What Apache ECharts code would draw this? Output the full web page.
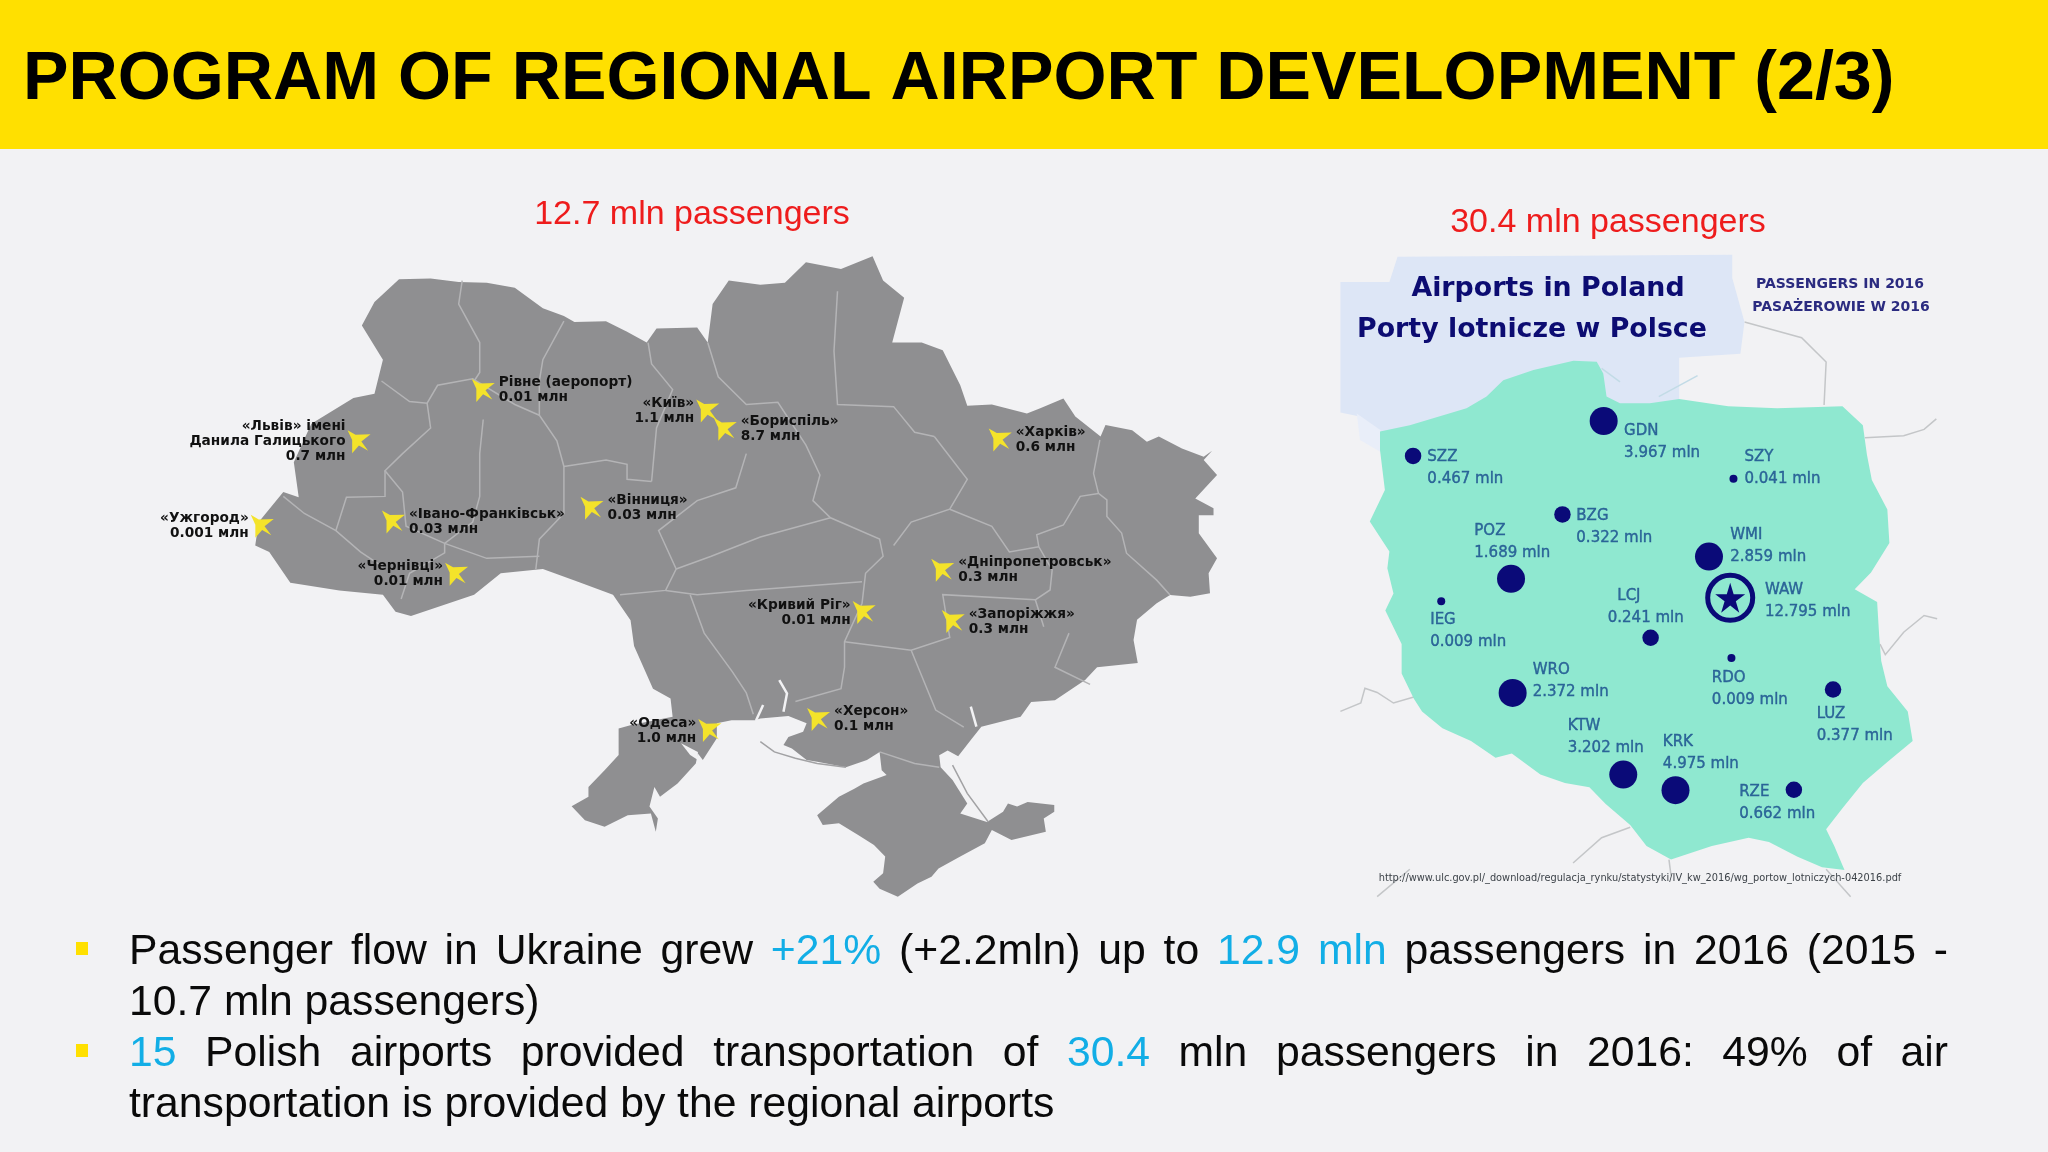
<!DOCTYPE html>
<html lang="en">
<head>
<meta charset="UTF-8">
<title>Program of regional airport development</title>
<script src="https://cdn.jsdelivr.net/npm/echarts@6/dist/echarts.min.js"></script>
<style>
    html, body { margin: 0; padding: 0; background: #f2f2f4; }
    #chart { width: 2048px; height: 1152px; }
</style>
</head>
<body>
<div id="chart"></div>
<script>
// map data is in map units, 0..1568 on both axes of each map's own grid

const ukraineOutline = [
    [355,92],[400,90],[440,98],[480,100],[520,112],[560,160],[590,178],[605,192],[650,190],[680,215],[708,240],[722,207],[780,205],[795,240],[802,150],[825,95],[870,105],[905,100],[935,52],[985,68],[1030,38],[1045,95],[1075,135],[1058,240],[1100,240],[1130,258],[1155,340],[1165,388],[1200,385],[1250,406],[1269,394],[1302,371],[1319,413],[1355,460],[1362,433],[1400,445],[1421,472],[1438,460],[1471,488],[1502,507],[1514,493],[1502,515],[1521,550],[1490,605],[1516,628],[1516,644],[1495,644],[1495,686],[1521,745],[1509,780],[1511,827],[1483,835],[1454,831],[1435,850],[1407,889],[1402,936],[1408,990],[1350,1000],[1333,1030],
    [1290,1077],[1256,1081],[1241,1116],[1185,1139],[1170,1170],[1152,1208],[1137,1195],[1125,1206],[1127,1234],[1144,1264],[1165,1319],[1155,1342],[1193,1362],[1216,1338],[1223,1319],[1236,1326],[1251,1315],[1289,1322],[1289,1338],[1274,1354],[1277,1385],[1228,1404],[1200,1381],[1190,1412],[1155,1443],[1124,1471],[1114,1490],[1094,1506],[1066,1537],[1040,1518],[1031,1502],[1045,1482],[1048,1443],[1032,1416],[1010,1393],[982,1365],[959,1369],[951,1346],[982,1303],[1004,1284],[1017,1272],[1050,1252],[1043,1241],[1040,1198],[1022,1217],[992,1234],[951,1221],[936,1217],[915,1190],[903,1182],[910,1163],[931,1151],[936,1131],[910,1114],[870,1120],[862,1124],[829,1124],[808,1131],[808,1166],[788,1217],[781,1202],[778,1225],[752,1272],[727,1303],[719,1280],[712,1326],[724,1354],[721,1385],[714,1342],[681,1346],[648,1373],[620,1358],[601,1325],[625,1303],[625,1280],[648,1241],[668,1205],[668,1143],[686,1135],[745,1116],[742,1073],[717,1050],
    [690,950],[685,890],[660,830],[610,800],[560,770],[500,780],[462,830],[372,880],[350,870],[332,830],[270,820],[200,802],[170,730],[150,715],[155,660],[190,590],[212,602],[205,520],[230,430],[290,370],[320,360],[332,280],[302,200],[320,145]
];
const dniesterEstuary = [[757,1178],[781,1198],[781,1217],[770,1205]];
const ukraineBorders = [
    [[445,95],[440,150],[470,240],[470,310],[462,330]],
    [[590,190],[560,280],[555,330],[555,410],[580,470],[590,530],[590,640],[555,700],[550,770]],
    [[330,330],[370,378],[395,382],[410,340],[460,325],[520,385],[555,410]],
    [[395,382],[400,440],[360,500],[335,540],[360,590],[365,670],[420,710],[480,745],[555,740]],
    [[475,420],[470,500],[470,600],[460,660],[420,710]],
    [[265,680],[280,602],[335,600],[335,540]],
    [[190,600],[220,640],[265,680],[300,730],[332,765]],
    [[420,710],[420,732],[370,780],[358,840]],
    [[590,530],[650,515],[680,525],[680,560],[715,565]],
    [[710,240],[715,290],[745,350],[722,440],[715,565]],
    [[795,240],[810,320],[850,385],[895,380],[935,480],[955,550],[945,610],[970,650],[1040,700],[1045,740],[1020,780],[1015,850],[990,940],[990,1000],[985,1050],[920,1080]],
    [[980,120],[975,260],[980,385],[1060,390],[1090,450],[1118,460]],
    [[1118,460],[1165,560],[1140,630],[1085,660],[1060,715]],
    [[1354,468],[1345,546],[1352,593],[1364,608],[1364,647],[1385,686],[1392,733],[1435,796],[1454,831]],
    [[1352,593],[1326,600],[1302,667],[1264,690],[1267,718],[1286,772],[1283,819],[1262,842],[1274,905]],
    [[1140,630],[1200,670],[1225,730],[1267,718]],
    [[850,500],[835,580],[780,610],[725,680],[750,770],[735,820],[670,830]],
    [[750,770],[800,740],[870,695],[970,650]],
    [[735,820],[780,830],[850,820],[1015,800]],
    [[770,830],[790,920],[830,1010],[850,1060],[860,1110]],
    [[990,940],[1085,960],[1140,930],[1130,830],[1262,842]],
    [[1085,960],[1120,1100],[1160,1140]],
    [[1310,920],[1290,1000],[1340,1040]],
    [[1040,1198],[1090,1225],[1125,1234]]
];
const ukraineWhiteLines = [
    [[897,1030],[908,1061],[903,1104]],
    [[864,1124],[874,1088]],
    [[1170,1092],[1178,1139]]
];
const ukraineSpits = [
    [[1144,1229],[1165,1295],[1195,1362]],
    [[870,1174],[890,1198],[920,1213],[951,1225],[992,1234]]
];
const ukraineNames = ['Рівне (аеропорт)', '«Львів» імені\nДанила Галицького', '«Ужгород»', '«Івано-Франківськ»', '«Чернівці»', '«Вінниця»', '«Київ»', '«Бориспіль»', '«Харків»', '«Дніпропетровськ»', '«Кривий Ріг»', '«Запоріжжя»', '«Херсон»', '«Одеса»'];
const ukrainePassengers = ['0.01 млн', '0.7 млн', '0.001 млн', '0.03 млн', '0.01 млн', '0.03 млн', '1.1 млн', '8.7 млн', '0.6 млн', '0.3 млн', '0.01 млн', '0.3 млн', '0.1 млн', '1.0 млн'];
const ukraineSpots = [[475,352],[298,472],[160,670],[347,660],[437,782],[630,628],[795,400],[820,443],[1212,468],[1130,773],[1018,872],[1145,893],[953,1122],[798,1148]];
const ukraineLabelSide = ['right','left','left','right','left','right','left','right','right','right','left','right','right','left'];

const polandOutline = [
    [147,455],[220,440],[359,400],[408,372],[449,333],[523,309],[621,287],[678,289],[694,317],[702,372],[735,388],[808,388],[880,378],[1000,395],[1120,400],[1280,395],[1330,440],[1340,510],[1352,570],[1390,640],[1395,720],[1350,790],[1310,830],[1365,860],[1370,940],[1375,1000],[1390,1060],[1440,1120],[1452,1190],[1390,1240],[1330,1290],[1280,1350],[1240,1400],[1260,1440],[1285,1497],[1230,1490],[1170,1465],[1100,1430],[1050,1420],[960,1440],[860,1472],[800,1440],[760,1390],[700,1340],[660,1300],[600,1290],[540,1270],[470,1220],[430,1230],[370,1190],[300,1160],[250,1120],[230,1090],[200,1030],[200,960],[160,880],[180,840],[165,780],[170,740],[122,669],[159,594],[147,499]
];
const balticSea = [
    [50,100],[170,100],[190,40],[1010,35],[1010,90],[1040,195],[1030,270],[880,280],[880,395],[150,480],[100,420],[50,410]
];
const szczecinLagoon = [[90,412],[147,451],[188,499],[176,519],[98,475]];
const neighbourBorders = [
    [[1040,195],[1180,232],[1240,290],[1235,392]],
    [[1335,470],[1430,465],[1480,450],[1510,425]],
    [[1372,960],[1385,985],[1430,932],[1480,892],[1512,900]],
    [[50,1120],[100,1100],[110,1065],[140,1075],[180,1100],[232,1085]],
    [[620,1480],[690,1420],[760,1395]],
    [[1240,1495],[1300,1560]],
    [[140,1560],[220,1495]],
    [[855,1472],[860,1510]]
];
const polandSpits = [[[690,305],[735,337]], [[830,372],[925,322]]];
const polandCodes = ['GDN','SZZ','SZY','BZG','POZ','WMI','IEG','LCJ','RDO','WRO','LUZ','KTW','KRK','RZE'];
const polandPassengers = [3.967,0.467,0.041,0.322,1.689,2.859,0.009,0.241,0.009,2.372,0.377,3.202,4.975,0.662];
const polandSpots = [[695,430],[228,513],[1013,567],[594,652],[468,805],[953,752],[297,858],[810,945],[1008,993],[472,1076],[1257,1068],[743,1270],[871,1307],[1161,1306]];
const polandLabelSpots = [[745,480],[263,543],[1040,543],[628,682],[378,718],[1005,727],[270,928],[705,872],[960,1067],[521,1048],[1217,1153],[607,1181],[840,1218],[1027,1338]];
const wawSpot = [1005,850];
const wawLabelSpot = [1090,859];
const wawPassengers = 12.795;

const slideTitle = 'PROGRAM OF REGIONAL AIRPORT DEVELOPMENT (2/3)';
const ukraineHeading = '12.7 mln passengers';
const polandHeading = '30.4 mln passengers';
const bodyLines = [
    { justify: true, runs: [['Passenger flow in Ukraine grew'], ['+21%', 1], ['(+2.2mln) up to'], ['12.9 mln', 1], ['passengers in 2016 (2015 -']] },
    { justify: false, runs: [['10.7 mln passengers)']] },
    { justify: true, runs: [['15', 1], ['Polish airports provided transportation of'], ['30.4', 1], ['mln passengers in 2016: 49% of air']] },
    { justify: false, runs: [['transportation is provided by the regional airports']] }
];

const planeIcon = 'path://M5,5 L38,24 L100,22 L62,52 L90,90 L52,68 L24,100 L24,46 Z';
const starIcon = 'path://M50,0 L61,35 L98,35 L68,57 L79,92 L50,70 L21,92 L32,57 L2,35 L39,35 Z';

const BODY_FONT = '42.7px "Liberation Sans"';
const measure = document.createElement('canvas').getContext('2d');

function bodyGraphics() {
    const left = 129, right = 1948, tops = [952, 1003, 1054, 1105];
    const out = [];
    measure.font = BODY_FONT;
    const space = measure.measureText(' ').width;
    bodyLines.forEach(function (line, i) {
        const words = [];
        line.runs.forEach(function (run) {
            run[0].split(' ').forEach(function (w) { words.push({ text: w, hot: !!run[1] }); });
        });
        const total = words.reduce(function (s, w) { return s + measure.measureText(w.text).width; }, 0);
        const gap = line.justify ? (right - left - total) / (words.length - 1) : space;
        let x = left;
        words.forEach(function (w) {
            out.push({
                type: 'text', x: x, y: tops[i], z: 5,
                style: { text: w.text, font: BODY_FONT, fill: w.hot ? '#12aee6' : '#0a0a0a', verticalAlign: 'middle' }
            });
            x += measure.measureText(w.text).width + gap;
        });
    });
    [948, 1050].forEach(function (y) {
        out.push({ type: 'rect', z: 5, shape: { x: 76, y: y - 6, width: 12, height: 13 }, style: { fill: '#ffe000' } });
    });
    return out;
}

function shapes(list, gridIdx, build) {
    return {
        type: 'custom', coordinateSystem: 'cartesian2d', xAxisIndex: gridIdx, yAxisIndex: gridIdx,
        silent: true, clip: false,
        data: list.map(function (_, i) { return [i]; }),
        encode: { x: -1, y: -1 },
        renderItem: function (params, api) {
            const pts = list[params.dataIndex].map(function (p) { return api.coord(p); });
            return build(pts);
        }
    };
}
function fill(color) {
    return function (points) {
        return { type: 'polygon', shape: { points: points }, style: { fill: color } };
    };
}
function stroke(color, width) {
    return function (points) {
        return { type: 'polyline', shape: { points: points }, style: { stroke: color, fill: 'none', lineWidth: width } };
    };
}
function hiddenAxis(inverse) {
    return { type: 'value', show: false, min: 0, max: 1568, inverse: inverse, gridIndex: 0 };
}

const chart = echarts.init(document.getElementById('chart'));
chart.setOption({
    animation: false,
    backgroundColor: '#f2f2f4',
    grid: [
        { left: 150, top: 240, width: 1100, height: 670 },
        { left: 1320, top: 240, width: 640, height: 660 }
    ],
    xAxis: [hiddenAxis(false), Object.assign(hiddenAxis(false), { gridIndex: 1 })],
    yAxis: [hiddenAxis(true), Object.assign(hiddenAxis(true), { gridIndex: 1 })],
    graphic: [
        { type: 'rect', z: 4, shape: { x: 0, y: 0, width: 2048, height: 149 }, style: { fill: '#ffe000' } },
        { type: 'text', z: 5, x: 23, y: 80, style: { text: slideTitle, font: 'bold 68.2px "Liberation Sans"', fill: '#000', verticalAlign: 'middle' } },
        { type: 'text', z: 5, x: 692, y: 215, style: { text: ukraineHeading, font: '34px "Liberation Sans"', fill: '#ee1c1c', align: 'center', verticalAlign: 'middle' } },
        { type: 'text', z: 5, x: 1608, y: 223, style: { text: polandHeading, font: '34px "Liberation Sans"', fill: '#ee1c1c', align: 'center', verticalAlign: 'middle' } },
        { type: 'text', z: 5, x: 1548, y: 289, style: { text: 'Airports in Poland', font: 'bold 26.8px "DejaVu Sans"', fill: '#0c0c72', align: 'center', verticalAlign: 'middle' } },
        { type: 'text', z: 5, x: 1532, y: 330, style: { text: 'Porty lotnicze w Polsce', font: 'bold 26.8px "DejaVu Sans"', fill: '#0c0c72', align: 'center', verticalAlign: 'middle' } },
        { type: 'text', z: 5, x: 1840, y: 284, style: { text: 'PASSENGERS IN 2016', font: 'bold 14px "DejaVu Sans"', fill: '#2b2b80', align: 'center', verticalAlign: 'middle' } },
        { type: 'text', z: 5, x: 1841, y: 307, style: { text: 'PASAŻEROWIE W 2016', font: 'bold 14px "DejaVu Sans"', fill: '#2b2b80', align: 'center', verticalAlign: 'middle' } },
        { type: 'text', z: 5, x: 1640, y: 878, style: { text: 'http://www.ulc.gov.pl/_download/regulacja_rynku/statystyki/IV_kw_2016/wg_portow_lotniczych-042016.pdf', font: '9.8px "DejaVu Sans"', fill: '#3c4248', align: 'center', verticalAlign: 'middle' } }
    ].concat(bodyGraphics()),
    series: [
        shapes([ukraineOutline], 0, fill('#8f8f91')),
        shapes([dniesterEstuary], 0, fill('#f2f2f4')),
        shapes(ukraineBorders, 0, stroke('#b4b4b6', 1.5)),
        shapes(ukraineWhiteLines, 0, stroke('#f2f2f4', 2.5)),
        shapes(ukraineSpits, 0, stroke('#a2a2a4', 1.5)),
        {
            type: 'scatter', xAxisIndex: 0, yAxisIndex: 0, symbol: planeIcon, symbolSize: 23,
            itemStyle: { color: '#f4e32a', opacity: 1 },
            labelLayout: { hideOverlap: false },
            data: ukraineSpots.map(function (p, i) {
                const onLeft = ukraineLabelSide[i] === 'left';
                return {
                    value: p,
                    label: {
                        show: true, position: ukraineLabelSide[i], distance: onLeft ? 2 : 4,
                        offset: ukraineNames[i].indexOf('\n') > 0 ? [0, -7] : [0, 0],
                        formatter: ukraineNames[i] + '\n' + ukrainePassengers[i],
                        fontFamily: 'DejaVu Sans', fontWeight: 'bold', fontSize: 13.7,
                        lineHeight: 15, color: '#111',
                        align: onLeft ? 'right' : 'left'
                    }
                };
            })
        },
        shapes(neighbourBorders, 1, stroke('#c4c6c8', 1.5)),
        shapes([balticSea], 1, fill('#dde6f6')),
        shapes([szczecinLagoon], 1, fill('#e9eef9')),
        shapes([polandOutline], 1, fill('#8fe8d0')),
        shapes(polandSpits, 1, stroke('#c2dbe6', 1.5)),
        {
            type: 'scatter', xAxisIndex: 1, yAxisIndex: 1, symbol: 'circle',
            symbolSize: function (v, params) {
                const pax = polandPassengers[params.dataIndex];
                return pax >= 1 ? 28 : pax >= 0.1 ? 16.5 : 8;
            },
            itemStyle: { color: '#0a0a78', opacity: 1 },
            data: polandSpots
        },
        {
            type: 'scatter', xAxisIndex: 1, yAxisIndex: 1, symbol: 'circle', symbolSize: 45,
            itemStyle: { color: 'rgba(0,0,0,0)', borderColor: '#0a0a78', borderWidth: 5, opacity: 1 },
            data: [wawSpot]
        },
        {
            type: 'scatter', xAxisIndex: 1, yAxisIndex: 1, symbol: starIcon, symbolSize: 30,
            itemStyle: { color: '#0a0a78', opacity: 1 },
            data: [wawSpot]
        },
        {
            type: 'scatter', xAxisIndex: 1, yAxisIndex: 1, symbolSize: 0,
            labelLayout: { hideOverlap: false },
            label: {
                show: true, position: [0, 0], align: 'left', verticalAlign: 'middle',
                fontFamily: 'DejaVu Sans', fontSize: 15, lineHeight: 22, color: '#164a8c',
                textBorderColor: '#164a8c', textBorderWidth: 0.4,
                formatter: function (p) { return p.data.text; }
            },
            data: polandLabelSpots.map(function (p, i) {
                const pad = polandCodes[i] === 'LCJ' ? '  ' : '';
                return { value: p, text: pad + polandCodes[i] + '\n' + polandPassengers[i].toFixed(3) + ' mln' };
            }).concat([{ value: wawLabelSpot, text: 'WAW\n' + wawPassengers.toFixed(3) + ' mln' }])
        }
    ]
});
</script>
</body>
</html>
